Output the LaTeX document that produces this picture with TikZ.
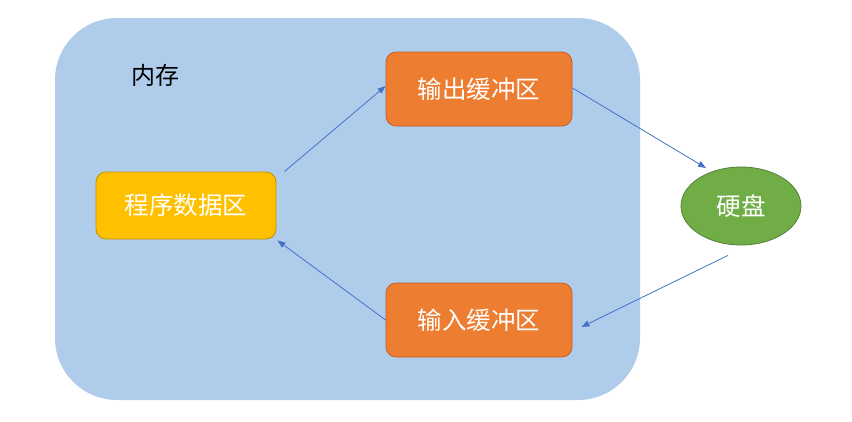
\documentclass[tikz,border=0pt]{standalone}
\usepackage{fontspec}
\setmainfont{Noto Sans CJK SC}
\usetikzlibrary{arrows.meta,shapes.geometric,calc}
\definecolor{memblue}{HTML}{AFCDEA}
\definecolor{bufor}{HTML}{ED7D31}
\definecolor{bufbd}{HTML}{C0602A}
\definecolor{progy}{HTML}{FFC000}
\definecolor{progbd}{HTML}{C09000}
\definecolor{diskg}{HTML}{70AD47}
\definecolor{diskbd}{HTML}{548235}
\definecolor{arr}{HTML}{4472C4}
\begin{document}
\begin{tikzpicture}[x=1pt,y=-1pt,
  boxstyle/.style={draw, line width=0.8pt, rounded corners=10pt, inner sep=0pt, font=\fontsize{24.5}{28}\selectfont, text=white},
  bufbox/.style={boxstyle, fill=bufor, draw=bufbd, minimum width=186pt, minimum height=74pt},
  progbox/.style={boxstyle, fill=progy, draw=progbd, minimum width=180pt, minimum height=67pt},
  diskstyle/.style={ellipse, draw=diskbd, line width=0.8pt, fill=diskg, minimum width=120pt, minimum height=78pt, inner sep=0pt, font=\fontsize{24.5}{28}\selectfont, text=white},
  conn/.style={draw=arr, line width=0.8pt, -{Triangle[length=8pt,width=6pt]}}
]
\useasboundingbox (0,0) rectangle (852,421);
\fill[white] (0,0) rectangle (852,421);
\node[fill=memblue, rounded corners=62pt, minimum width=585pt, minimum height=382pt, inner sep=0pt] (mem) at (347.5,209) {};
\node[font=\fontsize{24}{28}\selectfont, text=black] (memlabel) at (155.5,75) {内存};
\node[bufbox] (out) at (479,89) {输出缓冲区};
\node[progbox] (prog) at (186,205.5) {程序数据区};
\node[bufbox] (in) at (479,320) {输入缓冲区};
\node[diskstyle] (disk) at (741,206) {硬盘};
\draw[conn] ($(prog.north east)+(8,0)$) -- ($(out.west)+(0,-3)$);
\draw[conn] ($(out.east)+(0,-1)$) -- ($(disk.center)+(-35,-38)$);
\draw[conn] ($(disk.south)+(-13,10)$) -- ($(in.east)+(9,7)$);
\draw[conn] (in.west) -- ($(prog.south east)+(1,1)$);
\end{tikzpicture}
\end{document}
